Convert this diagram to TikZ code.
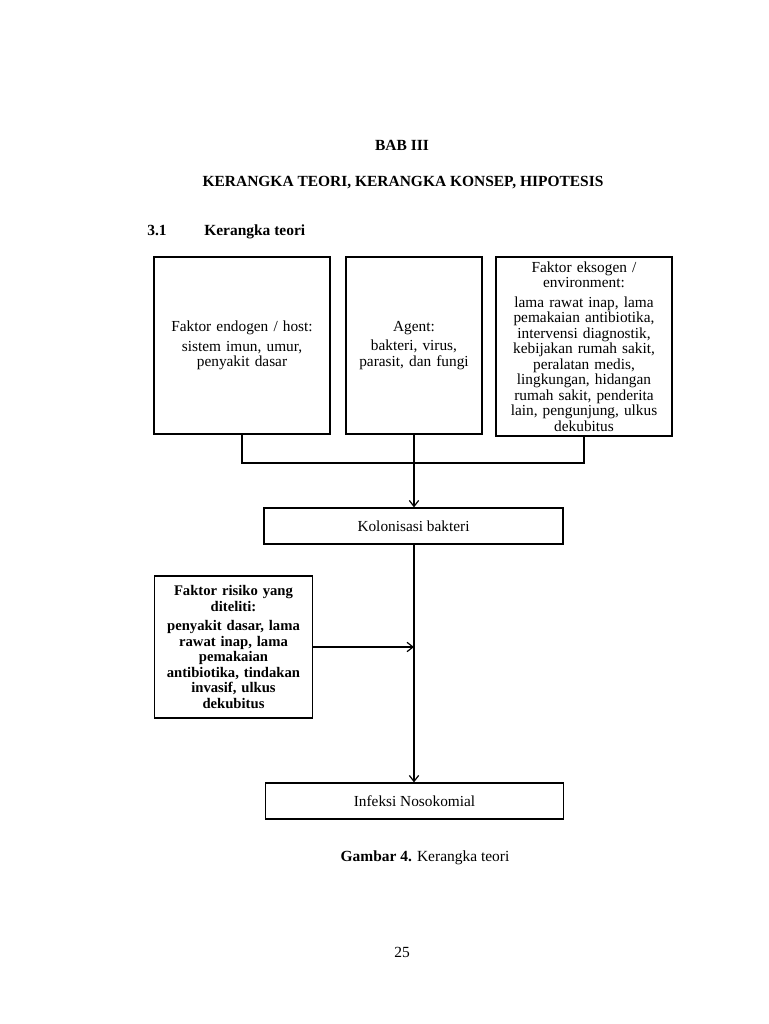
\documentclass[tikz,border=0pt]{standalone}
\usepackage{fontspec}
\setmainfont{Liberation Serif}
\usetikzlibrary{arrows.meta}
\begin{document}
\begin{tikzpicture}[x=0.75pt,y=-0.75pt,
  box/.style={draw,line width=0.9pt,align=center,inner sep=2pt,font=\fontsize{11.5}{11.6}\selectfont},
  lbl/.style={inner sep=0pt,font=\fontsize{11.6}{13}\selectfont},
  conn/.style={line width=0.9pt},
  arr/.style={line width=0.9pt,-{Straight Barb[length=4.5pt,width=7pt]}}]
\useasboundingbox (0,0) rectangle (768,1024);
% headings
\node[lbl,font=\fontsize{11.6}{13}\selectfont\bfseries,anchor=base] (bab) at (402,150) {BAB III};
\node[lbl,font=\fontsize{11.6}{13}\selectfont\bfseries,anchor=base] (judul) at (403,186) {KERANGKA TEORI, KERANGKA KONSEP, HIPOTESIS};
\node[lbl,font=\fontsize{11.6}{13}\selectfont\bfseries,anchor=base west] (sec) at (147,235) {3.1};
\node[lbl,font=\fontsize{11.6}{13}\selectfont\bfseries,anchor=base west] (sect) at (204,235) {Kerangka teori};
% boxes
\node[box,minimum width=132pt,minimum height=132.75pt,text width=126pt] (b1) at (242,345.5)
  {Faktor endogen / host:\\[3pt] sistem imun, umur,\\ penyakit dasar};
\node[box,minimum width=102pt,minimum height=132.75pt,text width=97pt] (b2) at (414,345.5)
  {Agent:\\[3pt] bakteri, virus,\\ parasit, dan fungi};
\node[box,minimum width=132pt,minimum height=134.25pt,text width=128pt] (b3) at (584,346.5)
  {Faktor eksogen /\\ environment:\\[3pt] lama rawat inap, lama\\ pemakaian antibiotika,\\ intervensi diagnostik,\\ kebijakan rumah sakit,\\ peralatan medis,\\ lingkungan, hidangan\\ rumah sakit, penderita\\ lain, pengunjung, ulkus\\ dekubitus};
\node[box,minimum width=224.25pt,minimum height=27pt] (kolo) at (413.5,526) {Kolonisasi bakteri};
\node[box,minimum width=117.75pt,minimum height=106.5pt,text width=114pt,font=\fontsize{11}{11.6}\selectfont\bfseries] (risk) at (233.5,647)
  {Faktor risiko yang\\ diteliti:\\[3pt] penyakit dasar, lama\\ rawat inap, lama\\ pemakaian\\ antibiotika, tindakan\\ invasif, ulkus\\ dekubitus};
\node[box,minimum width=223.5pt,minimum height=27pt] (inf) at (414.5,801) {Infeksi Nosokomial};
% connectors
\coordinate (j) at (414,463);
\draw[conn] (b1.south) |- (j) -| (b3.south);
\draw[conn] (b2.south) -- (j);
\draw[arr] (j) -- (j |- kolo.north);
\draw[arr] (kolo.south -| j) -- (j |- inf.north);
\draw[arr] (risk.east) -- (risk.east -| j);
% caption
\node[lbl,anchor=base] (cap) at (425,861) {\textbf{Gambar 4.} Kerangka teori};
\node[lbl,anchor=base] (page) at (402,957) {25};
\end{tikzpicture}
\end{document}
